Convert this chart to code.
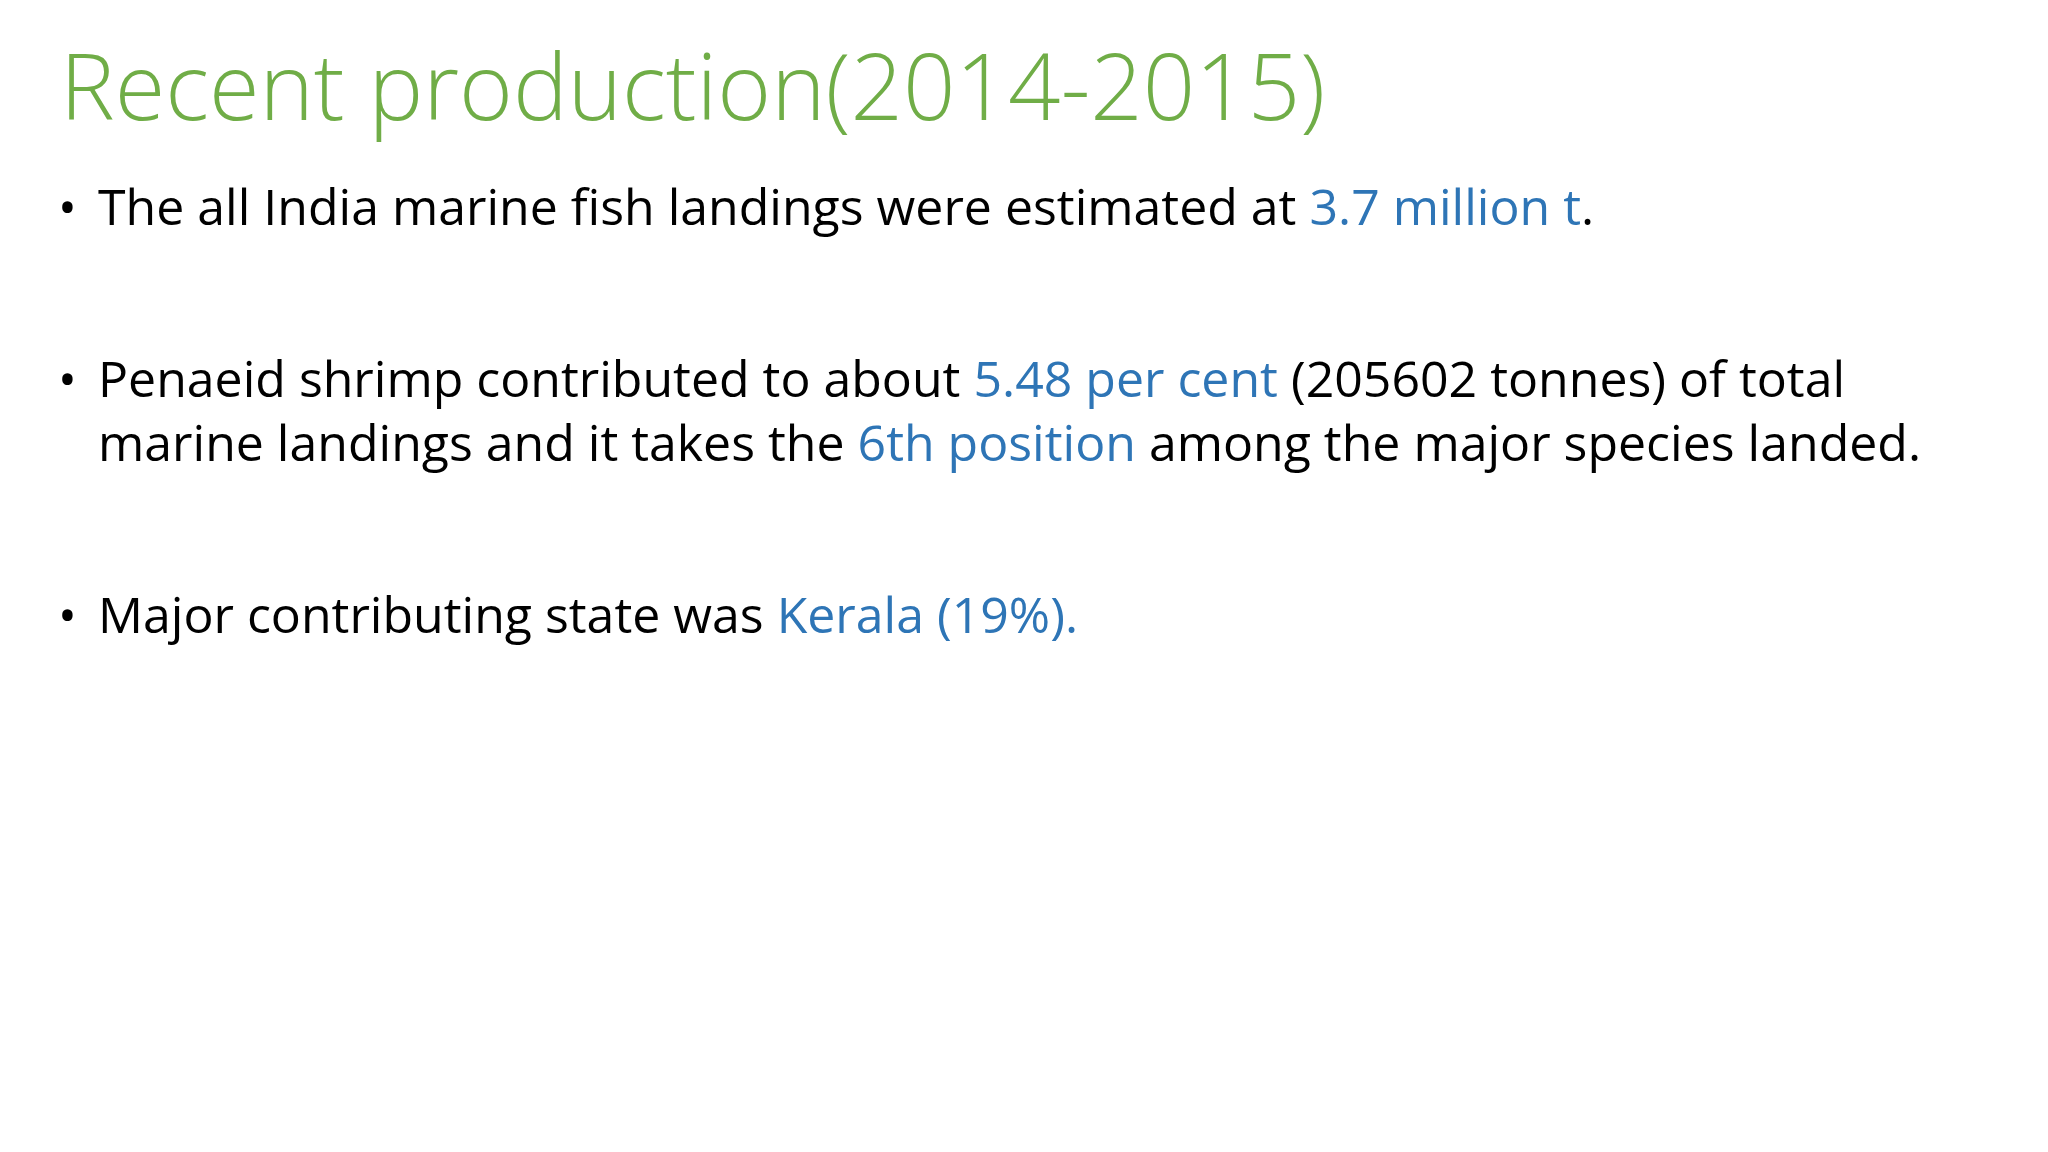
<!DOCTYPE html>
<html>
<head>
<meta charset="utf-8">
<script src="https://cdn.jsdelivr.net/npm/chart.js@4"></script>
<style>
  body { margin: 0; width: 2048px; height: 1152px; background: #fff; font-family: "Open Sans", sans-serif; overflow: hidden; }
  .title { position: absolute; left: 60px; top: 22px; font-size: 92px; font-weight: 300; color: #70AD47; white-space: nowrap; }
  .line { position: absolute; left: 98px; font-size: 50px; color: #000; white-space: nowrap; }
  .dot { position: absolute; left: 58px; font-size: 50px; }
  .hl { color: #2E75B6; }
</style>
</head>
<body>
<div class="title">Recent production(2014-2015)</div>

<div class="dot" style="top:172px">•</div>
<div class="line" style="top:172px">The all India marine fish landings were estimated at <span class="hl">3.7 million t</span>.</div>

<div class="dot" style="top:344px">•</div>
<div class="line" style="top:344px">Penaeid shrimp contributed to about <span class="hl">5.48 per cent</span> (205602 tonnes) of total</div>
<div class="line" style="top:408px">marine landings and it takes the <span class="hl">6th position</span> among the major species landed.</div>

<div class="dot" style="top:580px">•</div>
<div class="line" style="top:580px">Major contributing state was <span class="hl">Kerala (19%).</span></div>
</body>
</html>
